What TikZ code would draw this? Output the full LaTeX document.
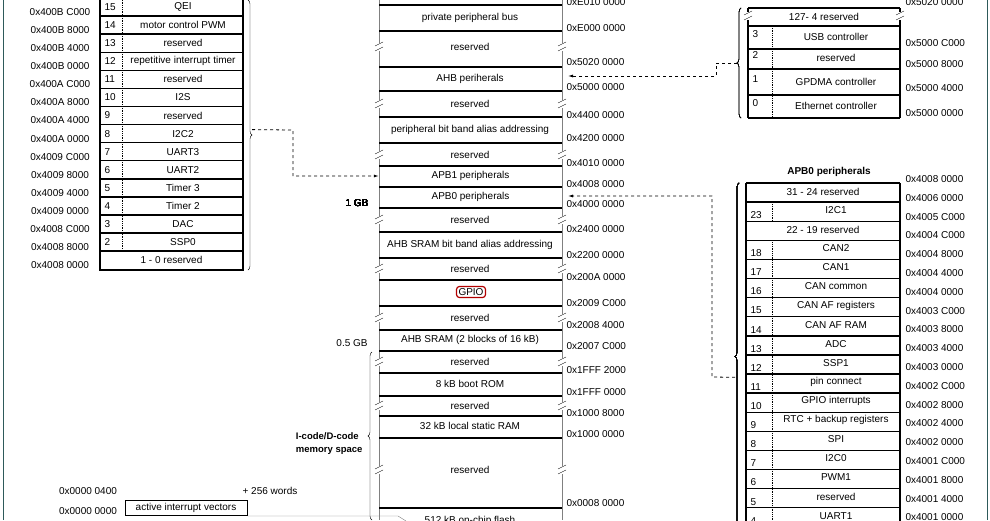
\documentclass[tikz,border=0pt]{standalone}
\usepackage{fontspec}
\setmainfont{Liberation Sans}
\usetikzlibrary{arrows.meta,decorations.pathreplacing}
\definecolor{frameteal}{HTML}{2E5A5A}
\newcommand{\brk}[2]{\fill[white] (#1-4,#2-4) rectangle (#1+4,#2+4);
                     \draw (#1-4,#2-1) -- (#1+4,#2-5);
                     \draw (#1-4,#2+4) -- (#1+4,#2);}
\newcommand{\addr}[3]{\node[anchor=west] at (#1,#2) {#3};}
\tikzset{hline/.style={line width=1.4pt},
         link/.style={black,dashed,thick,-{Latex[length=5pt,width=3pt]}},
         brc/.style={decorate,decoration={brace,amplitude=4pt}}}

\begin{document}
\begin{tikzpicture}[x=1pt,y=-1pt,font=\fontsize{10}{11}\selectfont]
 \useasboundingbox (0,0) rectangle (990,520);
 \draw[frameteal,line width=1pt] (3,0) -- (3,520);
 \draw[frameteal,line width=1pt] (987,0) -- (987,520);

 % ---- memory map
 \draw[gray] (379,0) -- (379,520);
 \draw[gray] (562,0) -- (562,520);
 \foreach \y in {5,31,67,91,117,143,166,187,208,232,258,280,306,330,351,373,396,416,438,508}
   \draw[hline] (379,\y) -- (562,\y);
 \foreach \y in {47,104,155,220,269,318,362,406,470}
   {\brk{379}{\y} \brk{562}{\y}}
 \foreach \t/\y in {private peripheral bus/18,reserved/47,AHB periherals/79,reserved/104,
                    peripheral bit band alias addressing/130,reserved/155,reserved/220,
                    AHB SRAM bit band alias addressing/245,reserved/269,reserved/318,
                    AHB SRAM (2 blocks of 16 kB)/340,reserved/362,8 kB boot ROM/384,
                    reserved/406,32 kB local static RAM/426,reserved/470,512 kB on-chip flash/521}
   \node at (470,\y) {\t};
 \node[minimum width=183pt,inner sep=0] (apb1) at (470.5,176) {APB1 peripherals};
 \node[minimum width=183pt,inner sep=0] (apb0) at (470.5,197) {APB0 peripherals};
 \node[draw=red!70!black,line width=1.2pt,rounded corners=3pt,inner sep=2pt] (gpio) at (471,292) {GPIO};

 \foreach \a/\y in {0xE010 0000/2,0xE000 0000/28,0x5020 0000/62,0x5000 0000/87,
                    0x4400 0000/115,0x4200 0000/138,0x4010 0000/163,0x4008 0000/184,
                    0x4000 0000/204,0x2400 0000/229,0x2200 0000/255,0x200A 0000/277,
                    0x2009 C000/303,0x2008 4000/325,0x2007 C000/346,0x1FFF 2000/370,
                    0x1FFF 0000/392,0x1000 8000/413,0x1000 0000/434,0x0008 0000/503}
   \addr{563}{\y}{\a}
 \node (onegb) at (357,203) {1 GB};
 \node (halfgb) at (352,343) {0.5 GB};
 \draw[brc] (372,520) -- (372,352) coordinate[pos=0.54] (itip);
 \node[anchor=east,align=left,font=\fontsize{9.5}{13}\selectfont\bfseries] (icode) at (366,444)
   {I-code/D-code\\memory space};

 % ---- APB1 table
 \draw[hline] (100,-2) rectangle (243,270);
 \foreach \k in {1,...,14}
   \draw[hline] (100,-2+18.08*\k) -- (243,-2+18.08*\k);
 \draw[densely dotted,thick] (122,-2) -- (122,251);
 \foreach \n/\t [count=\k from 0] in {15/QEI,14/motor control PWM,13/reserved,
          12/repetitive interrupt timer,11/reserved,10/I2S,9/reserved,8/I2C2,7/UART3,
          6/UART2,5/Timer 3,4/Timer 2,3/DAC,2/SSP0}
   {\node[anchor=west] at (101,7+18.08*\k) {\n};
    \node at (183,7+18.08*\k) {\t};}
 \node at (171.5,260) {1 - 0 reserved};
 \foreach \a [count=\k from 0] in {0x400B C000,0x400B 8000,0x400B 4000,0x400B 0000,
          0x400A C000,0x400A 8000,0x400A 4000,0x400A 0000,0x4009 C000,0x4009 8000,
          0x4009 4000,0x4009 0000,0x4008 C000,0x4008 8000,0x4008 0000}
   \node at (60,12+18.08*\k) {\a};
 \draw[brc] (248,0) -- (248,270) coordinate[pos=0.48] (ltip);
 \draw[link] (ltip) ++(4,0) -- (293,130) |- (apb1.west);

 % ---- AHB table
 \draw[hline] (748,8) -- (900,8);
 \foreach \y in {26,49,69,95,118} \draw[hline] (748,\y) -- (900,\y);
 \draw[hline] (748,8) -- (748,118);
 \draw[hline] (900,8) -- (900,118);
 \brk{748}{16} \brk{900}{16}
 \draw[densely dotted,thick] (772,26) -- (772,118);
 \node at (824,17) {127- 4 reserved};
 \foreach \n/\t/\y in {3/USB controller/37,2/reserved/58,1/GPDMA controller/82,0/Ethernet controller/106}
   {\node[anchor=west] at (749,\y-3) {\n}; \node at (836,\y) {\t};}
 \foreach \a/\y in {0x5020 0000/2,0x5000 C000/43,0x5000 8000/64,0x5000 4000/88,0x5000 0000/113}
   \addr{902}{\y}{\a}
 \draw[brc] (741,118) -- (741,8) coordinate[pos=0.5] (atip);
 \coordinate (ahbin) at (568,76);
 \draw[link] (atip) ++(-4,0) -- (716,63) |- (ahbin);

 % ---- APB0 table
 \node[font=\fontsize{10}{11}\selectfont\bfseries] at (829,172) {APB0 peripherals};
 \draw[hline] (746,183) -- (900,183);
 \draw[hline] (746,183) -- (746,530);
 \draw[hline] (900,183) -- (900,530);
 \foreach \k in {1,...,17} \draw[hline] (746,183+19.1*\k) -- (900,183+19.1*\k);
 \draw[densely dotted,thick] (772,202.1) -- (772,221.2);
 \draw[densely dotted,thick] (772,240.3) -- (772,530);
 \node at (823,192) {31 - 24 reserved};
 \node at (823,230) {22 - 19 reserved};
 \foreach \n/\t/\k in {23/I2C1/1,18/CAN2/3,17/CAN1/4,16/CAN common/5,15/CAN AF registers/6,
          14/CAN AF RAM/7,13/ADC/8,12/SSP1/9,11/pin connect/10,10/GPIO interrupts/11,
          9/RTC + backup registers/12,8/SPI/13,7/I2C0/14,6/PWM1/15,5/reserved/16,4/UART1/17}
   {\node[anchor=west] at (747,196+19.1*\k) {\n};
    \node at (836,191+19.1*\k) {\t};}
 \foreach \a [count=\k from 0] in {0x4008 0000,0x4006 0000,0x4005 C000,0x4004 C000,
          0x4004 8000,0x4004 4000,0x4004 0000,0x4003 C000,0x4003 8000,0x4003 4000,
          0x4003 0000,0x4002 C000,0x4002 8000,0x4002 4000,0x4002 0000,0x4001 C000,
          0x4001 8000,0x4001 4000,0x4001 0000}
   \addr{902}{179+18.8*\k}{\a}
 \draw[brc] (739,530) -- (739,183) coordinate[pos=0.44] (ptip);
 \coordinate (apbin) at (568,196);
 \draw[link] (ptip) ++(-4,0) -- (712,377) |- (apbin);

 % ---- interrupt vectors
 \node at (88,491) {0x0000 0400};
 \node at (88,511) {0x0000 0000};
 \node at (270,491) {+ 256 words};
 \node[draw,line width=1pt,minimum width=122pt,minimum height=15pt,inner sep=1pt] (aiv) at (186,508)
   {active interrupt vectors};
 \draw[gray] (aiv.south east) -- (398,516) -- (406,521);
\end{tikzpicture}
\end{document}
